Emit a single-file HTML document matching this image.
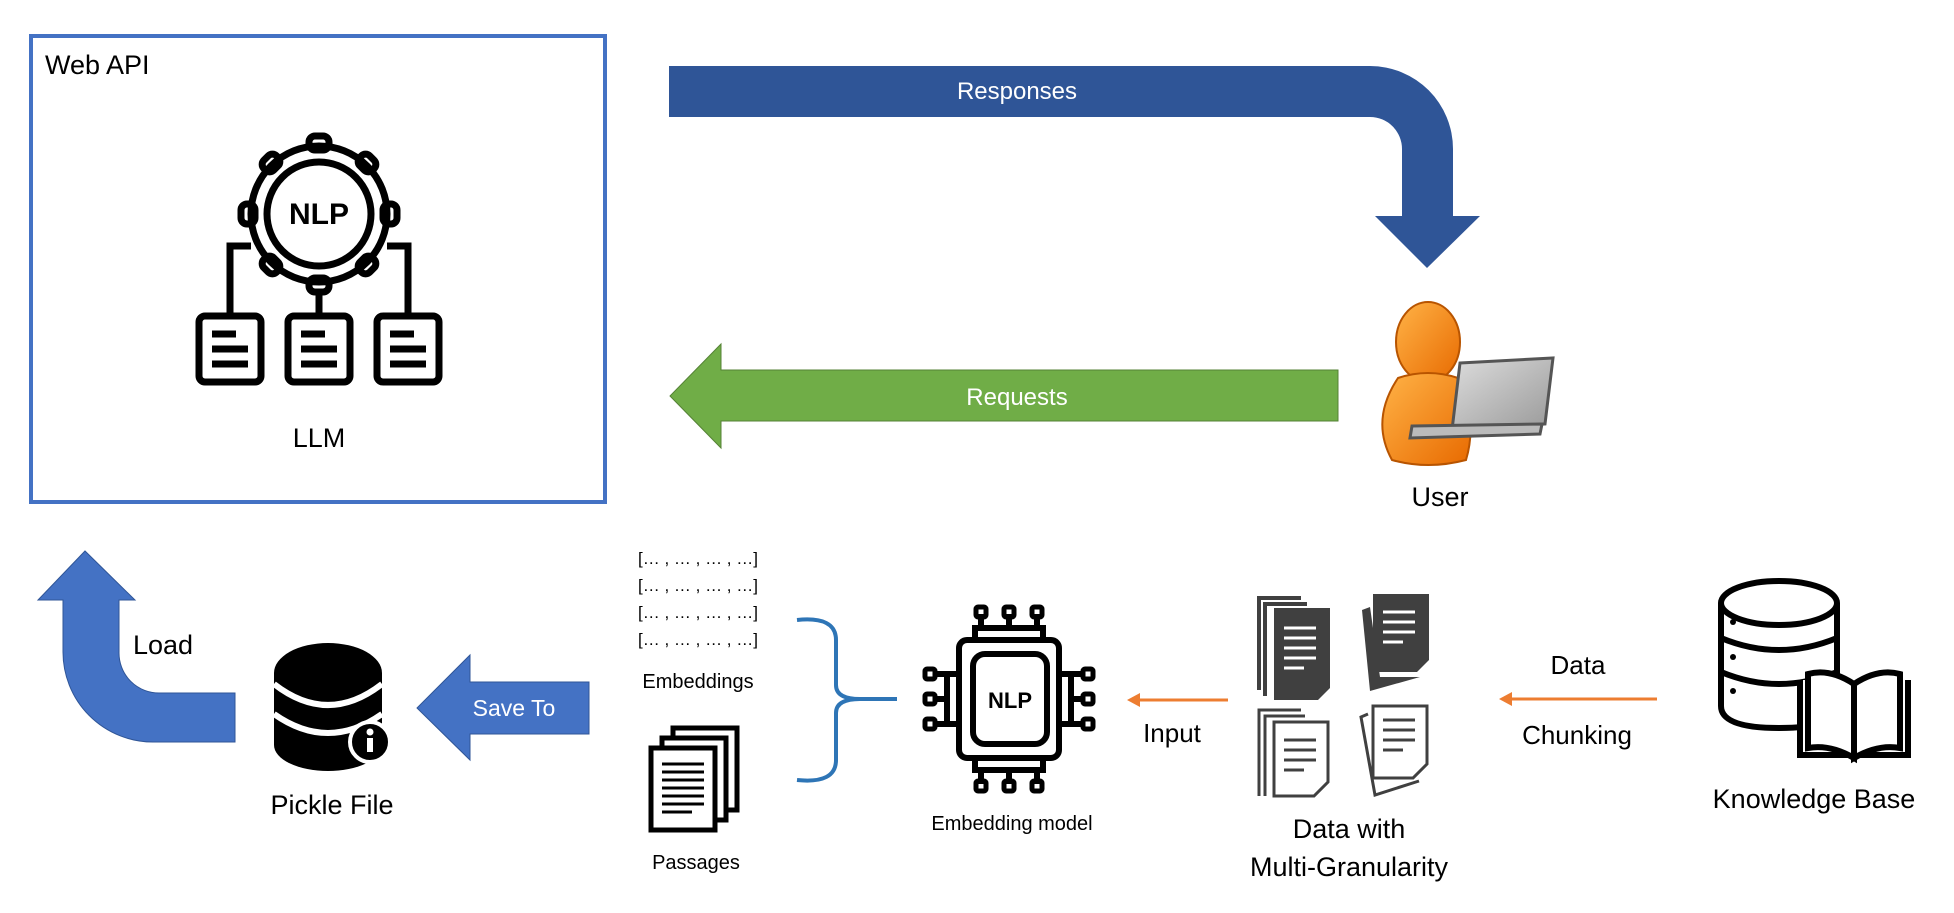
<!DOCTYPE html>
<html><head><meta charset="utf-8"><style>
html,body{margin:0;padding:0;background:#fff}
svg{display:block}
text{font-family:"Liberation Sans",sans-serif}
</style></head><body>
<svg width="1954" height="913" viewBox="0 0 1954 913" xmlns="http://www.w3.org/2000/svg">
<rect x="31" y="36" width="574" height="466" fill="#fff" stroke="#4472C4" stroke-width="4"/>
<text x="45" y="74" font-size="27" fill="#000">Web API</text>
<g fill="none" stroke="#000" stroke-width="7">
<circle cx="319" cy="214" r="68"/>
<circle cx="319" cy="214" r="52"/>
<rect x="309" y="136" width="20" height="14" rx="6"/>
<rect x="309" y="278" width="20" height="14" rx="6"/>
<rect x="241" y="204" width="14" height="20" rx="6"/>
<rect x="383" y="204" width="14" height="20" rx="6"/>
<rect x="262" y="156" width="18" height="14" rx="6" transform="rotate(-45 271 163)"/>
<rect x="358" y="156" width="18" height="14" rx="6" transform="rotate(45 367 163)"/>
<rect x="262" y="258" width="18" height="14" rx="6" transform="rotate(45 271 265)"/>
<rect x="358" y="258" width="18" height="14" rx="6" transform="rotate(-45 367 265)"/>
<path d="M251 246 H230 V316 M387 246 H408 V316 M319 292 V316"/>
<rect x="199" y="316" width="62" height="66" rx="6"/>
<rect x="288" y="316" width="62" height="66" rx="6"/>
<rect x="377" y="316" width="62" height="66" rx="6"/>
<path d="M212 334h24M212 349h36M212 364h36M301 334h24M301 349h36M301 364h36M390 334h24M390 349h36M390 364h36"/>
</g>
<text x="319" y="224" font-size="30" font-weight="bold" text-anchor="middle">NLP</text>
<text x="319" y="447" font-size="27" text-anchor="middle">LLM</text>

<path d="M669 66 H1370 A83 83 0 0 1 1453 149 V216 H1480 L1427 268 L1375 216 H1402 V149 A32 32 0 0 0 1370 117 H669 Z" fill="#2F5597"/>
<text x="1017" y="99" font-size="24" fill="#fff" text-anchor="middle">Responses</text>

<path d="M1338 370 H721 V344 L670 396 L721 448 V421 H1338 Z" fill="#70AD47" stroke="#548235" stroke-width="1"/>
<text x="1017" y="405" font-size="24" fill="#fff" text-anchor="middle">Requests</text>

<defs>
<linearGradient id="og" x1="0" y1="0" x2="1" y2="1"><stop offset="0" stop-color="#FFB347"/><stop offset="1" stop-color="#E86A00"/></linearGradient>
<linearGradient id="gg" x1="0" y1="0" x2="1" y2="1"><stop offset="0" stop-color="#ddd"/><stop offset="1" stop-color="#999"/></linearGradient>
</defs>
<ellipse cx="1428" cy="342" rx="32" ry="40" fill="url(#og)" stroke="#B85400" stroke-width="2"/>
<path d="M1398 378 Q1428 368 1458 378 Q1478 420 1466 460 Q1428 470 1392 460 Q1370 420 1398 378Z" fill="url(#og)" stroke="#B85400" stroke-width="2"/>
<path d="M1460 363 L1553 358 L1545 424 L1452 430 Z" fill="url(#gg)" stroke="#555" stroke-width="3"/>
<path d="M1412 426 L1542 424 L1540 434 L1410 438 Z" fill="#bbb" stroke="#555" stroke-width="3"/>
<text x="1440" y="506" font-size="27" text-anchor="middle">User</text>

<path d="M235 693 H160 A40 40 0 0 1 119 652 V600 H135 L85 551 L38 600 H63 V652 A90 90 0 0 0 153 742 H235 Z" fill="#4472C4" stroke="#2F5597" stroke-width="1"/>
<text x="133" y="654" font-size="27">Load</text>

<!-- Pickle DB -->
<path d="M274 673 A54 30 0 0 1 382 673 V745 A54 26 0 0 1 274 745 Z" fill="#000"/>
<path d="M274 684 Q328 726 382 684" fill="none" stroke="#fff" stroke-width="6"/>
<path d="M274 714 Q328 752 382 714" fill="none" stroke="#fff" stroke-width="6"/>
<circle cx="370" cy="742" r="20" fill="#000" stroke="#fff" stroke-width="4"/>
<rect x="367" y="738" width="6" height="14" fill="#fff"/><circle cx="370" cy="732" r="3.5" fill="#fff"/>
<text x="332" y="814" font-size="27" text-anchor="middle">Pickle File</text>

<path d="M589 682 H470 V655 L417 708 L470 760 V734 H589 Z" fill="#4472C4" stroke="#2F5597" stroke-width="1"/>
<text x="514" y="716" font-size="23" fill="#fff" text-anchor="middle">Save To</text>

<g font-size="17" text-anchor="middle">
<text x="698" y="564">[… , … , … , …]</text>
<text x="698" y="591">[… , … , … , …]</text>
<text x="698" y="618">[… , … , … , …]</text>
<text x="698" y="645">[… , … , … , …]</text>
</g>
<text x="698" y="688" font-size="20" text-anchor="middle">Embeddings</text>
<g fill="#fff" stroke="#000" stroke-width="5">
<rect x="673" y="728" width="64" height="82"/>
<rect x="662" y="738" width="64" height="82"/>
<rect x="651" y="748" width="64" height="82"/>
</g>
<path d="M662 764h42M662 772h42M662 780h42M662 788h42M662 796h42M662 804h42M662 812h30" stroke="#000" stroke-width="3"/>
<text x="696" y="869" font-size="20" text-anchor="middle">Passages</text>

<path d="M797 620 Q836 616 836 640 V685 Q836 699 860 699 H897 M860 699 Q836 699 836 713 V760 Q836 784 797 780" fill="none" stroke="#2E75B6" stroke-width="4"/>

<g fill="none" stroke="#000" stroke-width="6">
<rect x="959" y="640" width="100" height="118" rx="8"/>
<rect x="973" y="654" width="74" height="90" rx="12"/>
<path d="M975 640V628H1043V640M975 758V770H1043V758M959 674H947V724H959M1059 674H1071V724H1059"/>
<path d="M981 628V614M1009 628V614M1037 628V614M981 770V784M1009 770V784M1037 770V784M947 674H935M947 699H935M947 724H935M1071 674H1083M1071 699H1083M1071 724H1083"/>
<g stroke-width="5">
<rect x="976" y="607" width="10" height="10" rx="2"/><rect x="1004" y="607" width="10" height="10" rx="2"/><rect x="1032" y="607" width="10" height="10" rx="2"/>
<rect x="976" y="781" width="10" height="10" rx="2"/><rect x="1004" y="781" width="10" height="10" rx="2"/><rect x="1032" y="781" width="10" height="10" rx="2"/>
<rect x="925" y="669" width="10" height="10" rx="2"/><rect x="925" y="694" width="10" height="10" rx="2"/><rect x="925" y="719" width="10" height="10" rx="2"/>
<rect x="1083" y="669" width="10" height="10" rx="2"/><rect x="1083" y="694" width="10" height="10" rx="2"/><rect x="1083" y="719" width="10" height="10" rx="2"/>
</g></g>
<text x="1010" y="708" font-size="22" font-weight="bold" text-anchor="middle">NLP</text>
<text x="1012" y="830" font-size="20" text-anchor="middle">Embedding model</text>

<path d="M1228 700 H1138" stroke="#ED7D31" stroke-width="3"/><path d="M1127 700 L1140 693 V707Z" fill="#ED7D31"/>
<text x="1172" y="742" font-size="26" text-anchor="middle">Input</text>
<path d="M1657 699 H1510" stroke="#ED7D31" stroke-width="3"/><path d="M1499 699 L1512 692 V706Z" fill="#ED7D31"/>
<text x="1578" y="674" font-size="26" text-anchor="middle">Data</text>
<text x="1577" y="744" font-size="26" text-anchor="middle">Chunking</text>

<g fill="#404040">
<path d="M1257 596h44v4h-40v90h-4z M1263 602h44v4h-40v90h-4z"/>
<path d="M1274 608h56v80l-12 12h-44z"/>
<path d="M1373 594h56v66l-12 12h-44z"/>
<path d="M1362 610l8 -3 10 70 40 0 -50 14z"/>
</g>
<g stroke="#fff" stroke-width="3"><path d="M1284 628h32M1284 638h32M1284 648h32M1284 658h32M1284 668h20M1383 612h32M1383 622h32M1383 632h32M1383 642h20"/></g>
<g fill="none" stroke="#404040" stroke-width="3">
<path d="M1259 796V710h42M1265 796V716h40"/>
<path d="M1274 722h54v60l-14 14h-40z"/>
<path d="M1373 706h54v58l-14 14h-40zM1368 714l-7 3 14 78 44 -14"/>
<path d="M1284 740h32M1284 750h32M1284 760h32M1284 770h20M1383 720h32M1383 730h32M1383 740h32M1383 750h20"/>
</g>
<text x="1349" y="838" font-size="27" text-anchor="middle">Data with</text>
<text x="1349" y="876" font-size="27" text-anchor="middle">Multi-Granularity</text>

<g fill="#fff" stroke="#000" stroke-width="6">
<path d="M1721 603 V706 Q1721 728 1779 728 Q1837 728 1837 706 V603"/>
<ellipse cx="1779" cy="603" rx="58" ry="22"/>
<path d="M1721 638 Q1779 662 1837 638 M1721 672 Q1779 696 1837 672"/>
<path d="M1800 680 V755 H1908 V680"/>
<path d="M1808 674 Q1830 668 1854 684 V758 Q1830 744 1808 748Z"/>
<path d="M1900 674 Q1878 668 1854 684 V758 Q1878 744 1900 748Z"/>
</g>
<circle cx="1733" cy="622" r="3" fill="#000"/><circle cx="1733" cy="657" r="3" fill="#000"/><circle cx="1733" cy="691" r="3" fill="#000"/>
<text x="1814" y="808" font-size="27" text-anchor="middle">Knowledge Base</text>
</svg>
</body></html>
